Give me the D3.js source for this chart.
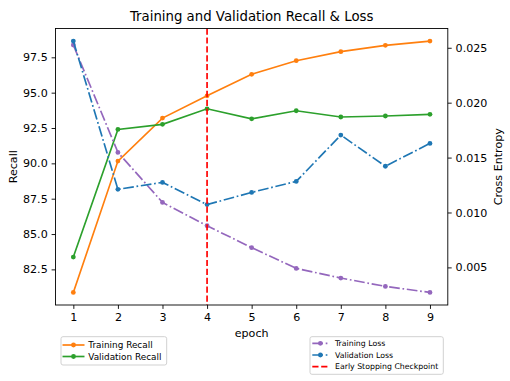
<!DOCTYPE html>
<html>
<head>
<meta charset="utf-8">
<script src="https://cdn.jsdelivr.net/npm/d3@7"></script>
<style>
  body { margin: 0; background: #fff; }
  svg { display: block; font-family: "DejaVu Sans", sans-serif; }
</style>
</head>
<body>
<svg id="chart" width="510" height="381"></svg>
<script>
const epochs = [1, 2, 3, 4, 5, 6, 7, 8, 9];
const trainRecall = [80.87, 90.16, 93.20, 94.78, 96.30, 97.26, 97.90, 98.35, 98.65];
const valRecall   = [83.37, 92.40, 92.76, 93.86, 93.15, 93.72, 93.28, 93.35, 93.47];
const trainLoss = [0.02525, 0.01547, 0.01092, 0.00879, 0.00680, 0.00491, 0.00403, 0.00327, 0.00272];
const valLoss   = [0.02561, 0.01211, 0.01274, 0.01072, 0.01183, 0.01283, 0.01705, 0.01421, 0.01629];
const earlyStop = 4;
const xTicks = [1, 2, 3, 4, 5, 6, 7, 8, 9];
const leftTicks = [82.5, 85.0, 87.5, 90.0, 92.5, 95.0, 97.5];
const rightTicks = [0.005, 0.010, 0.015, 0.020, 0.025];

const svg = d3.select("#chart");
const L = 55.5, R = 447.8, T = 28.5, B = 305;

function padDomain(vals) {
  const mn = d3.min(vals), mx = d3.max(vals), m = (mx - mn) * 0.05;
  return [mn - m, mx + m];
}
const x = d3.scaleLinear().domain(padDomain(epochs)).range([L, R]);
const yL = d3.scaleLinear().domain(padDomain(trainRecall.concat(valRecall))).range([B, T]);
const yR = d3.scaleLinear().domain(padDomain(trainLoss.concat(valLoss))).range([B, T]);

const C = { orange: "#ff7f0e", green: "#2ca02c", purple: "#9467bd", blue: "#1f77b4", red: "#ff0000" };
const LW = 1.67;
const MR = 2.4;
const dashDot = "10.7,2.7,1.7,2.7";

const fs = 11.1;
// axes
const gx = svg.append("g").attr("transform", `translate(0,${B})`)
  .call(d3.axisBottom(x).tickValues(xTicks).tickFormat(d3.format("d")).tickSizeOuter(0).tickSize(3.9).tickPadding(3.9));
const gl = svg.append("g").attr("transform", `translate(${L},0)`)
  .call(d3.axisLeft(yL).tickValues(leftTicks).tickFormat(d3.format(".1f")).tickSizeOuter(0).tickSize(3.9).tickPadding(3.9));
const gr = svg.append("g").attr("transform", `translate(${R},0)`)
  .call(d3.axisRight(yR).tickValues(rightTicks).tickFormat(d3.format(".3f")).tickSizeOuter(0).tickSize(3.9).tickPadding(3.9));
[gx, gl, gr].forEach(g => {
  g.select(".domain").remove();
  g.selectAll("text").attr("font-size", fs).attr("font-family", "DejaVu Sans").attr("fill", "#000");
  g.selectAll("line").attr("stroke", "#000").attr("stroke-width", 0.9);
});

function series(vals, yS, color, dash) {
  const line = d3.line().x((d, i) => x(epochs[i])).y(d => yS(d));
  svg.append("path").datum(vals).attr("d", line).attr("fill", "none")
    .attr("stroke", color).attr("stroke-width", LW).attr("stroke-dasharray", dash || null);
  svg.append("g").selectAll("circle").data(vals).join("circle")
    .attr("cx", (d, i) => x(epochs[i])).attr("cy", d => yS(d)).attr("r", MR).attr("fill", color);
}
series(trainRecall, yL, C.orange);
series(valRecall, yL, C.green);
series(trainLoss, yR, C.purple, dashDot);
series(valLoss, yR, C.blue, dashDot);

svg.append("line").attr("x1", x(earlyStop)).attr("x2", x(earlyStop)).attr("y1", T).attr("y2", B)
  .attr("stroke", C.red).attr("stroke-width", LW).attr("stroke-dasharray", "6.2,2.7");

// frame
svg.append("rect").attr("x", L).attr("y", T).attr("width", R - L).attr("height", B - T)
  .attr("fill", "none").attr("stroke", "#000").attr("stroke-width", 0.9);

// titles
svg.append("text").attr("x", (L + R) / 2).attr("y", 21).attr("text-anchor", "middle")
  .attr("font-size", 13.3).text("Training and Validation Recall & Loss");
svg.append("text").attr("x", (L + R) / 2).attr("y", 337).attr("text-anchor", "middle")
  .attr("font-size", fs).text("epoch");
svg.append("text").attr("transform", `translate(16.5,${(T + B) / 2}) rotate(-90)`).attr("text-anchor", "middle")
  .attr("font-size", fs).text("Recall");
svg.append("text").attr("transform", `translate(501.5,${(T + B) / 2}) rotate(-90)`).attr("text-anchor", "middle")
  .attr("font-size", fs).text("Cross Entropy");

// legends
function legend(x0, y0, w, h, items, fsize, rowH, firstY, lineX0, lineX1, textX) {
  const g = svg.append("g");
  g.append("rect").attr("x", x0).attr("y", y0).attr("width", w).attr("height", h)
    .attr("rx", 2).attr("fill", "#fff").attr("fill-opacity", 0.8).attr("stroke", "#cccccc").attr("stroke-width", 0.9);
  items.forEach((it, i) => {
    const cy = firstY + i * rowH;
    g.append("line").attr("x1", lineX0).attr("x2", lineX1).attr("y1", cy).attr("y2", cy)
      .attr("stroke", it.color).attr("stroke-width", LW).attr("stroke-dasharray", it.dash || null);
    if (it.marker) g.append("circle").attr("cx", (lineX0 + lineX1) / 2).attr("cy", cy).attr("r", MR).attr("fill", it.color);
    g.append("text").attr("x", textX).attr("y", cy).attr("dy", "0.35em").attr("font-size", fsize).text(it.label);
  });
}
legend(61, 336.7, 105.7, 28.3, [
  { label: "Training Recall", color: C.orange, marker: true },
  { label: "Validation Recall", color: C.green, marker: true }
], 8.9, 11.5, 345, 62.5, 84.5, 88.3);
legend(310, 336.7, 133.3, 37.6, [
  { label: "Training Loss", color: C.purple, marker: true, dash: "10.7,2.7,1.7,2.7" },
  { label: "Validation Loss", color: C.blue, marker: true, dash: "10.7,2.7,1.7,2.7" },
  { label: "Early Stopping Checkpoint", color: C.red, dash: "6.2,2.7" }
], 7.8, 11.7, 343.3, 312.3, 328.5, 335);
</script>
</body>
</html>
